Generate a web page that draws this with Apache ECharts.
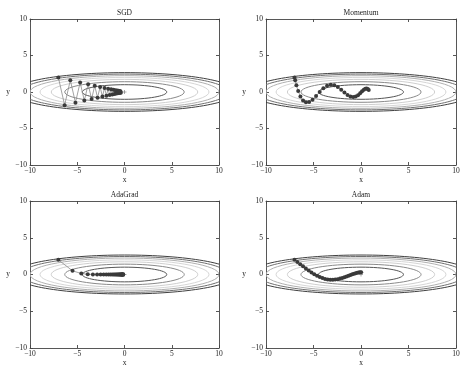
<!DOCTYPE html>
<html>
<head>
<meta charset="utf-8">
<script src="https://cdn.jsdelivr.net/npm/echarts@6/dist/echarts.min.js"></script>
<style>
html,body{margin:0;padding:0;background:#fff;}
#c{width:474px;height:370px;}
</style>
</head>
<body>
<div id="c"></div>
<script>
// ---- data ----
const panelTitles = ['SGD', 'Momentum', 'AdaGrad', 'Adam'];
const axisTicks = [-10, -5, 0, 5, 10];

// contour ellipses (semi-axis along x, semi-axis along y)
const contourA = [4.47, 6.32, 7.75, 8.94, 10.0, 10.95, 11.83];
const contourB = [1.0, 1.41, 1.73, 2.0, 2.24, 2.45, 2.65];
const contourColors = ['#555555', '#8a8a8a', '#cfcfcf', '#d6d6d6', '#b0b0b0', '#707070', '#404040'];

const sgdX = [-7, -6.335, -5.733, -5.189, -4.696, -4.250, -3.846, -3.480, -3.150, -2.851, -2.580, -2.335, -2.113, -1.912, -1.731, -1.566, -1.417, -1.283, -1.161, -1.051, -0.951, -0.860, -0.779, -0.705, -0.638, -0.577, -0.522, -0.473, -0.428, -0.387];
const sgdY = [2, -1.8, 1.62, -1.458, 1.312, -1.181, 1.063, -0.957, 0.861, -0.775, 0.697, -0.628, 0.565, -0.508, 0.458, -0.412, 0.371, -0.334, 0.300, -0.270, 0.243, -0.219, 0.197, -0.177, 0.160, -0.144, 0.129, -0.116, 0.105, -0.094];

const momX = [-7, -6.93, -6.798, -6.611, -6.376, -6.101, -5.793, -5.458, -5.101, -4.729, -4.348, -3.960, -3.572, -3.187, -2.809, -2.440, -2.084, -1.743, -1.418, -1.112, -0.825, -0.558, -0.313, -0.089, 0.113, 0.295, 0.455, 0.594, 0.714, 0.814];
const momY = [2, 1.6, 0.92, 0.124, -0.617, -1.161, -1.418, -1.366, -1.046, -0.548, 0.009, 0.509, 0.857, 0.998, 0.927, 0.676, 0.316, -0.071, -0.406, -0.626, -0.699, -0.624, -0.433, -0.174, 0.094, 0.316, 0.453, 0.486, 0.418, 0.273];

const adaX = [-7, -5.5, -4.573, -3.888, -3.345, -2.899, -2.524, -2.206, -1.932, -1.695, -1.489, -1.310, -1.153, -1.015, -0.895, -0.788, -0.695, -0.613, -0.540, -0.477, -0.420, -0.371, -0.327, -0.289, -0.255, -0.225, -0.198, -0.175, -0.154, -0.136];
const adaY = [2, 0.5, 0.136, 0.037, 0.010, 0.003, 0.001, 0.0002, 0, 0, 0, 0, 0, 0, 0, 0, 0, 0, 0, 0, 0, 0, 0, 0, 0, 0, 0, 0, 0, 0];

const adamX = [-7, -6.7, -6.400, -6.102, -5.804, -5.507, -5.213, -4.920, -4.630, -4.343, -4.059, -3.780, -3.504, -3.234, -2.969, -2.710, -2.457, -2.211, -1.973, -1.743, -1.521, -1.309, -1.106, -0.913, -0.730, -0.557, -0.396, -0.246, -0.107, 0.020];
const adamY = [2, 1.7, 1.402, 1.109, 0.823, 0.548, 0.288, 0.049, -0.164, -0.346, -0.492, -0.600, -0.671, -0.706, -0.708, -0.682, -0.631, -0.561, -0.476, -0.380, -0.279, -0.176, -0.075, 0.021, 0.106, 0.180, 0.239, 0.283, 0.310, 0.322];

const minimumPoint = [[0, 0]];

// ---- layout ----
const grids = [
  {left: 30, top: 19, width: 189, height: 146},
  {left: 266, top: 19, width: 190, height: 146},
  {left: 30, top: 201, width: 189, height: 147},
  {left: 266, top: 201, width: 190, height: 147}
];
const paths = [[sgdX, sgdY], [momX, momY], [adaX, adaY], [adamX, adamY]];
const FONT = 'Liberation Serif';
const FS = 7.5;
const TXT = '#222';
const fmt = v => String(v).replace('-', '\u2212');

const ellipseData = contourA.map((a, i) => [a, contourB[i]]);

function renderEllipse(params, api) {
  const c = api.coord([0, 0]);
  const s = api.size([api.value(0), api.value(1)]);
  const cs = params.coordSys;
  return {
    type: 'group',
    clipPath: {type: 'rect', shape: {x: cs.x, y: cs.y, width: cs.width, height: cs.height}},
    children: [{
      type: 'ellipse',
      shape: {cx: c[0], cy: c[1], rx: s[0], ry: s[1]},
      style: {fill: null, stroke: contourColors[params.dataIndex], lineWidth: 1}
    }]
  };
}

const xAxes = [], yAxes = [], series = [], titles = [];
grids.forEach((g, i) => {
  const common = {
    gridIndex: i, type: 'value', min: -10, max: 10, interval: 5,
    splitLine: {show: false},
    axisLine: {show: true, onZero: false, lineStyle: {color: '#444', width: 0.9}},
    axisTick: {show: true, inside: true, length: 3, lineStyle: {color: '#444', width: 0.9}}
  };
  xAxes[i] = Object.assign({}, common, {
    position: 'bottom', name: 'x', nameLocation: 'middle', nameGap: 10,
    nameTextStyle: {fontFamily: FONT, fontSize: FS, color: TXT},
    axisLabel: {fontFamily: FONT, fontSize: FS, color: TXT, margin: 2, formatter: fmt}
  });
  yAxes[i] = Object.assign({}, common, {
    position: 'left', name: 'y', nameLocation: 'middle', nameGap: 20, nameRotate: 0,
    nameTextStyle: {fontFamily: FONT, fontSize: FS, color: TXT},
    axisLabel: {fontFamily: FONT, fontSize: FS, color: TXT, margin: 3, formatter: fmt}
  });
  xAxes[i + 4] = Object.assign({}, common, {position: 'top', axisLabel: {show: false}});
  yAxes[i + 4] = Object.assign({}, common, {position: 'right', axisLabel: {show: false}});

  titles.push({
    text: panelTitles[i],
    left: g.left + g.width / 2, top: g.top - 10, textAlign: 'center',
    padding: 0,
    textStyle: {fontFamily: FONT, fontSize: FS, fontWeight: 'normal', color: TXT}
  });

  series.push({
    type: 'custom', xAxisIndex: i, yAxisIndex: i,
    data: ellipseData, renderItem: renderEllipse, silent: true, z: 1
  });
  const [px, py] = paths[i];
  series.push({
    type: 'line', xAxisIndex: i, yAxisIndex: i,
    data: px.map((x, k) => [x, py[k]]),
    symbol: 'circle', symbolSize: 4, showSymbol: true,
    itemStyle: {color: '#3a3a3a'},
    lineStyle: {color: '#8a8a8a', width: 0.8},
    z: 3
  });
  series.push({
    type: 'scatter', xAxisIndex: i, yAxisIndex: i,
    data: minimumPoint,
    symbol: 'path://M0,5L10,5M5,0L5,10', symbolSize: 4,
    itemStyle: {color: 'none', borderColor: '#777', borderWidth: 0.8},
    z: 2
  });
});

const chart = echarts.init(document.getElementById('c'), null, {renderer: 'canvas'});
chart.setOption({
  backgroundColor: '#fff',
  animation: false,
  title: titles,
  grid: grids,
  xAxis: xAxes,
  yAxis: yAxes,
  series: series
});
</script>
</body>
</html>
